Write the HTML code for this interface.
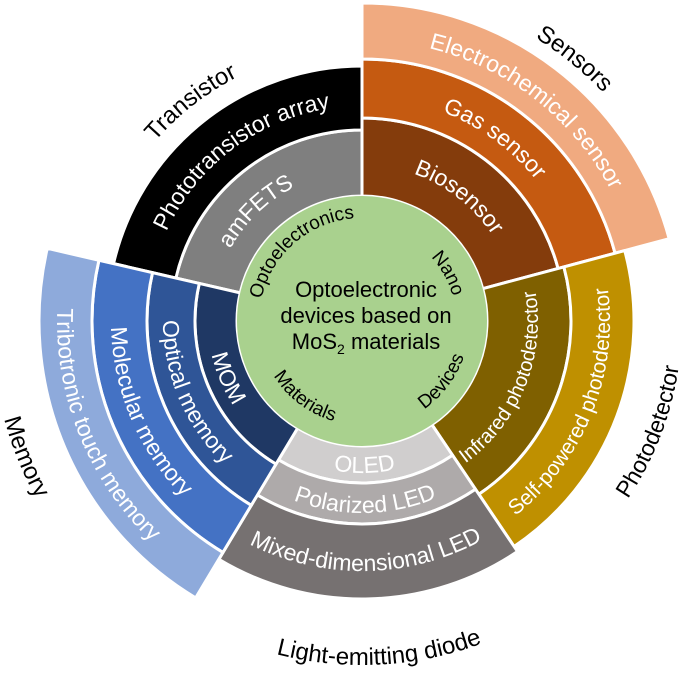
<!DOCTYPE html>
<html><head><meta charset="utf-8">
<style>
html,body{margin:0;padding:0;background:#fff;}
svg{display:block;}
text{font-family:"Liberation Sans",Arial,sans-serif;}
.w{fill:#fff;font-size:23px;}
.b{fill:#000;font-size:24px;}
.g{fill:#000;font-size:19px;}
</style></head><body>
<svg id="s" width="685" height="681" viewBox="0 0 685 681" xmlns="http://www.w3.org/2000/svg">
<g id="secs"></g>
<circle cx="362" cy="321" r="125" fill="#a9d18e"/>
<defs id="defs"></defs>
<text class="w"><textPath href="#p_pta" startOffset="50%" text-anchor="middle">Phototransistor array</textPath></text>
<text class="w"><textPath href="#p_am" startOffset="50%" text-anchor="middle">amFETS</textPath></text>
<text class="w"><textPath href="#p_el" startOffset="50%" text-anchor="middle">Electrochemical sensor</textPath></text>
<text class="w"><textPath href="#p_gas" startOffset="50%" text-anchor="middle">Gas sensor</textPath></text>
<text class="w"><textPath href="#p_bio" startOffset="50%" text-anchor="middle">Biosensor</textPath></text>
<text class="w" style="font-size:20px"><textPath href="#p_ir" startOffset="50%" text-anchor="middle">Infrared photodetector</textPath></text>
<text class="w" style="font-size:21px"><textPath href="#p_sp" startOffset="50%" text-anchor="middle">Self-powered photodetector</textPath></text>
<text class="w"><textPath href="#p_oled" startOffset="50%" text-anchor="middle">OLED</textPath></text>
<text class="w"><textPath href="#p_pol" startOffset="50%" text-anchor="middle">Polarized LED</textPath></text>
<text class="w"><textPath href="#p_mix" startOffset="50%" text-anchor="middle">Mixed-dimensional LED</textPath></text>
<text class="w"><textPath href="#p_mom" startOffset="50%" text-anchor="middle">MOM</textPath></text>
<text class="w"><textPath href="#p_opt" startOffset="50%" text-anchor="middle">Optical memory</textPath></text>
<text class="w"><textPath href="#p_mol" startOffset="50%" text-anchor="middle">Molecular memory</textPath></text>
<text class="w"><textPath href="#p_tri" startOffset="50%" text-anchor="middle">Tribotronic touch memory</textPath></text>
<text class="b"><textPath href="#p_T" startOffset="50%" text-anchor="middle">Transistor</textPath></text>
<text class="b"><textPath href="#p_S" startOffset="50%" text-anchor="middle">Sensors</textPath></text>
<text class="b" style="font-size:23px"><textPath href="#p_P" startOffset="50%" text-anchor="middle">Photodetector</textPath></text>
<text class="b"><textPath href="#p_L" startOffset="50%" text-anchor="middle">Light-emitting diode</textPath></text>
<text class="b"><textPath href="#p_M" startOffset="50%" text-anchor="middle">Memory</textPath></text>
<text class="g"><textPath href="#p_oe" startOffset="50%" text-anchor="middle">Optoelectronics</textPath></text>
<text class="g"><textPath href="#p_na" startOffset="50%" text-anchor="middle">Nano</textPath></text>
<text class="g"><textPath href="#p_de" startOffset="50%" text-anchor="middle">Devices</textPath></text>
<text class="g"><textPath href="#p_ma" startOffset="50%" text-anchor="middle">Materials</textPath></text>
<text x="366" y="297" text-anchor="middle" style="font-size:22px">Optoelectronic</text>
<text x="366" y="323" text-anchor="middle" style="font-size:22px">devices based on</text>
<text x="366" y="349" text-anchor="middle" style="font-size:22px">MoS<tspan font-size="14" dy="5">2</tspan><tspan dy="-5"> materials</tspan></text>
</svg>
<script>
var cx=362,cy=321,NS="http://www.w3.org/2000/svg";
function P(a,r){var t=a*Math.PI/180;return [cx+r*Math.cos(t),cy+r*Math.sin(t)];}
function sec(a1,a2,r1,r2,f){
 var p1=P(a1,r2),p2=P(a2,r2),p3=P(a2,r1),p4=P(a1,r1),l=(a2-a1)>180?1:0;
 var d="M"+p1+"A"+r2+","+r2+" 0 "+l+" 1 "+p2+"L"+p3+"A"+r1+","+r1+" 0 "+l+" 0 "+p4+"Z";
 var e=document.createElementNS(NS,"path");e.setAttribute("d",d);e.setAttribute("fill",f);
 e.setAttribute("stroke","#fff");e.setAttribute("stroke-width","3");e.setAttribute("stroke-linejoin","round");
 document.getElementById("secs").appendChild(e);}
function tp(id,m,r,cw,span){span=span||80;var d;
 if(cw){var a=P(m-span,r),b=P(m+span,r);d="M"+a+"A"+r+","+r+" 0 0 1 "+b;}
 else{var a=P(m+span,r),b=P(m-span,r);d="M"+a+"A"+r+","+r+" 0 0 0 "+b;}
 var e=document.createElementNS(NS,"path");e.setAttribute("id",id);e.setAttribute("d",d);e.setAttribute("fill","none");
 document.getElementById("defs").appendChild(e);}
sec(193,270,125,191,"#7f7f7f");sec(193,270,191,255,"#000000");
sec(270,345,125,203,"#843c0c");sec(270,345,203,262,"#c55a11");sec(270,345,262,318,"#f0aa80");
sec(345,416,125,209,"#7f6000");sec(345,416,209,272,"#bf9000");
sec(56,121,125,162,"#d0cece");sec(56,121,162,203,"#aeaaaa");sec(56,121,203,278,"#767171");
sec(121,193,125,167,"#1f3864");sec(121,193,167,215,"#2f5597");sec(121,193,215,270,"#4472c4");sec(121,193,270,323,"#8eaadb");
tp("p_pta",233,215,1);tp("p_am",226,150,1);
tp("p_el",-52,281,1);tp("p_gas",-54,224,1);tp("p_bio",-52,156,1);
tp("p_ir",22,176,0);tp("p_sp",22,248,0);
tp("p_oled",89,152,0);tp("p_pol",89,192,0);tp("p_mix",89,250,0);
tp("p_mom",157,154,0);tp("p_opt",157,199,0);tp("p_mol",157,251,0);tp("p_tri",158,305,0);
tp("p_T",232,274,1);tp("p_S",-51,332,1);tp("p_P",21,320,0);tp("p_L",87,344,0);tp("p_M",158,371,0);
tp("p_oe",229,103,1);tp("p_na",-29,94,1);tp("p_de",37,108,0);tp("p_ma",127,104,0);
</script>
</body></html>
